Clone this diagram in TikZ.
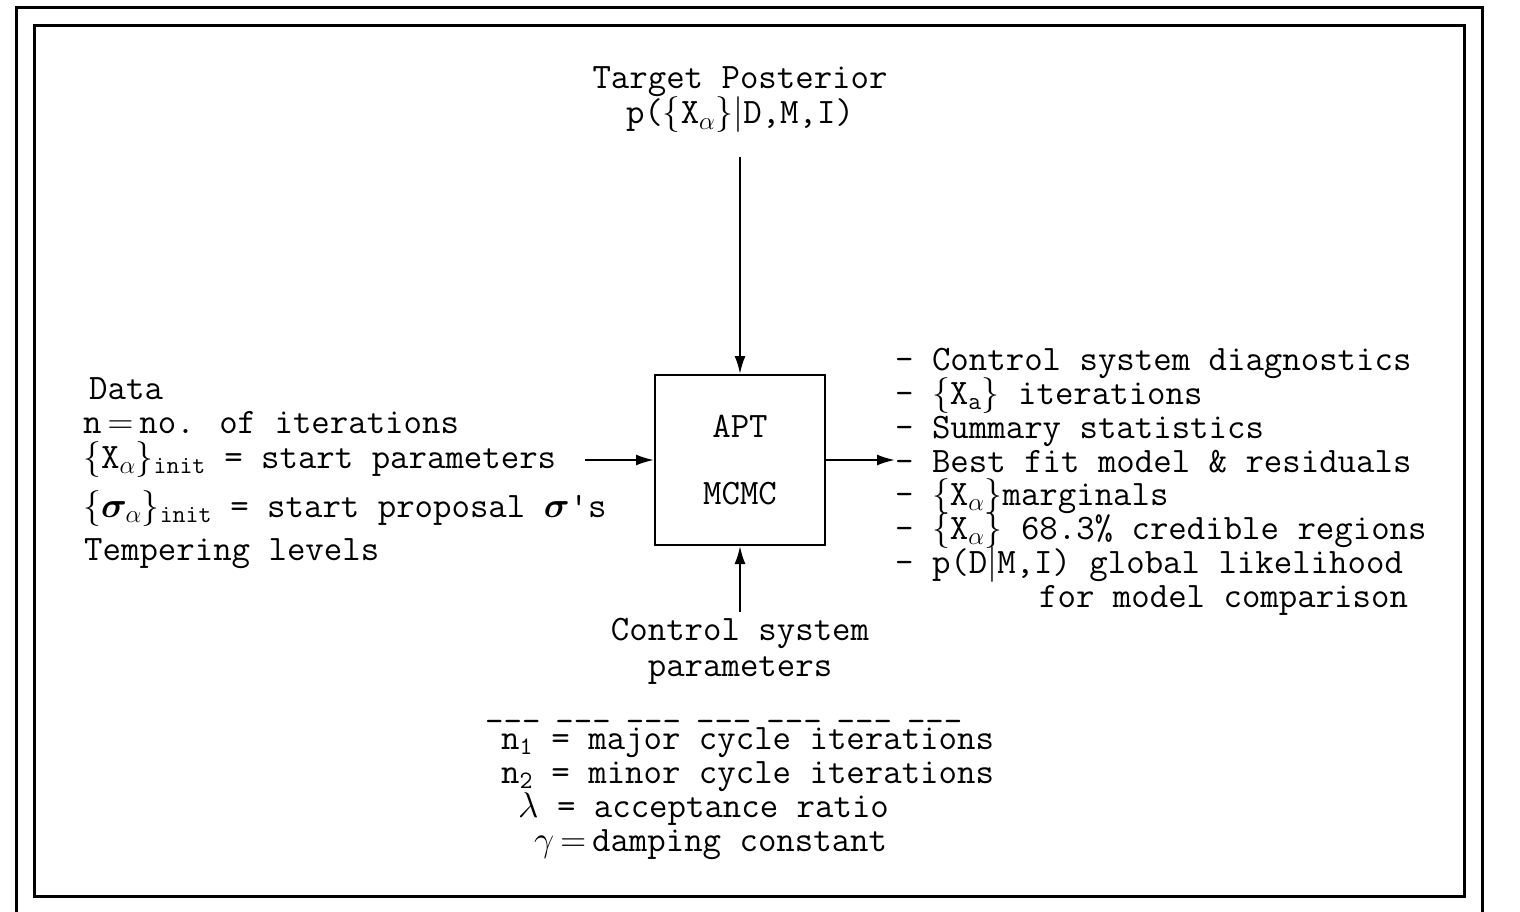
\RequirePackage{fix-cm}
\documentclass[tikz,border=0pt]{standalone}
\usepackage{bm}
\usepackage{fontspec}
\usepackage{tikz}
\usetikzlibrary{arrows.meta, positioning}

\newcommand{\setX}{$\smash{\{}$X$_{\alpha}\smash{\}}$}
\newcommand{\subinit}{\textsubscript{init}}

\begin{document}
\begin{tikzpicture}[x=1pt, y=-1pt,
    frame/.style={line width=3pt},
    mcmcbox/.style={draw, line width=2pt, minimum size=170pt, align=center,
                    font=\ttfamily\fontsize{35.8}{34}\selectfont},
    txt/.style={inner sep=0pt, font=\ttfamily\fontsize{35.8}{34}\selectfont},
    arrow/.style={-{Latex[length=18pt, width=11pt]}, line width=2pt}
]
    \useasboundingbox (0,0) rectangle (1520,912);

    % Frames
    \draw[frame] (16,912) -- (16,8) -- (1482,8) -- (1482,912);
    \draw[frame] (34,26) rectangle (1464,896);

    % Sampler
    \node[mcmcbox] (mcmc) at (740,460) {APT\\[33pt]MCMC};

    % Target posterior
    \node[txt, anchor=base] (target) at (740,89) {Target Posterior};
    \node[txt, anchor=base] (posterior) at (740,124)
        {p(\setX$\smash{|}$D,M,I)};
    \coordinate (postin) at (740,157);

    % Data and start values
    \node[txt, anchor=base west] (data) at (89,399) {Data};
    \node[txt, anchor=base west] (niter) at (83,433)
        {n\kern6pt$=$\kern6pt no. of iterations};
    \node[txt, anchor=base west] (xinit) at (83,468)
        {\setX\subinit{} = start parameters};
    \node[txt, anchor=base west] (sinit) at (83,517)
        {$\smash{\{}\bm{\sigma}_{\alpha}\smash{\}}$\subinit{} = start proposal $\bm{\sigma}$\textquotesingle s};
    \node[txt, anchor=base west] (temper) at (84,560) {Tempering levels};
    \coordinate (datain) at (585,460);

    % Results
    \node[txt, anchor=base west] (diag) at (895,370) {- Control system diagnostics};
    \node[txt, anchor=base west] (iters) at (895,404)
        {- $\smash{\{}$X\textsubscript{a}$\smash{\}}$ iterations};
    \node[txt, anchor=base west] (summ) at (895,438) {- Summary statistics};
    \node[txt, anchor=base west] (bestfit) at (895,472)
        {- Best fit model \& residuals};
    \node[txt, anchor=base west] (margs) at (895,505) {- \setX{}marginals};
    \node[txt, anchor=base west] (credib) at (895,539)
        {- \setX{} 68.3\% credible regions};
    \node[txt, anchor=base west] (globlik) at (895,573)
        {- p(D$\smash{|}$M,I) global likelihood};
    \node[txt, anchor=base west] (modcomp) at (1039,607) {for model comparison};
    \coordinate (resout) at (895,460);

    % Control system
    \node[txt, anchor=base] (ctrlsys) at (740,640) {Control system};
    \node[txt, anchor=base] (ctrlpar) at (740,676) {parameters};
    \coordinate (ctrlin) at (740,612);

    \node[txt, anchor=base west] (rule) at (485,715)
        {\_\_\_\hspace{15pt}\_\_\_\hspace{15pt}\_\_\_\hspace{15pt}\_\_\_\hspace{15pt}\_\_\_\hspace{15pt}\_\_\_\hspace{15pt}\_\_\_};
    \node[txt, anchor=base west] (majcyc) at (501,749)
        {n\textsubscript{1} = major cycle iterations};
    \node[txt, anchor=base west] (mincyc) at (501,783)
        {n\textsubscript{2} = minor cycle iterations};
    \node[txt, anchor=base west] (accept) at (518,817)
        {$\lambda$ = acceptance ratio};
    \node[txt, anchor=base west] (damp) at (534,851)
        {$\gamma$\kern6pt$=$\kern6pt damping constant};

    % Arrows
    \draw[arrow] (postin) -- (mcmc.north);
    \draw[arrow] (datain) -- (mcmc.west);
    \draw[arrow] (mcmc.east) -- (resout);
    \draw[arrow] (ctrlin) -- (mcmc.south);
\end{tikzpicture}
\end{document}
